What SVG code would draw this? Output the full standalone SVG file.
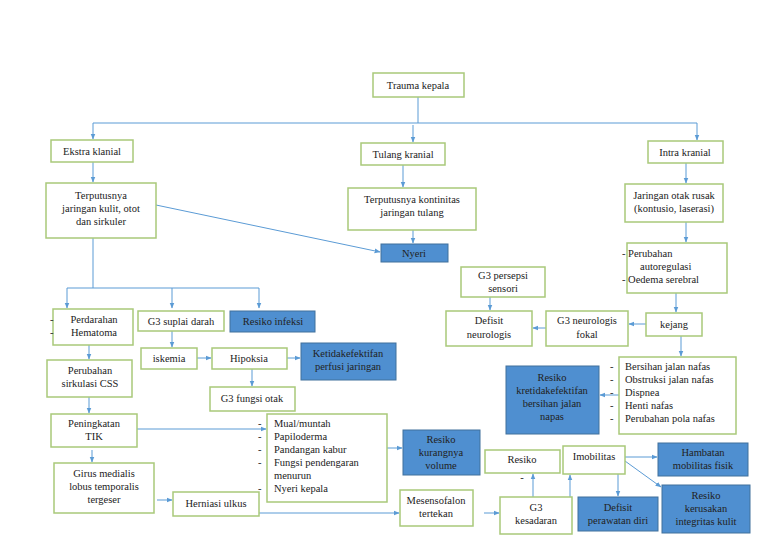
<svg xmlns="http://www.w3.org/2000/svg" width="768" height="543" viewBox="0 0 768 543" font-family="'Liberation Serif', 'DejaVu Serif', serif">
<style>
.n{fill:#fff;stroke:#a9c97a;stroke-width:1.5}
.b{fill:#4f8fd0;stroke:#41719c;stroke-width:1}
text{font-family:'Liberation Serif','DejaVu Serif',serif;font-size:10.5px;fill:#222;text-anchor:middle}
.l{text-anchor:start}
.c line,.c polyline{stroke:#5b9bd5;stroke-width:1;fill:none;marker-end:url(#a)}
.c .p{marker-end:none}
</style>
<defs><marker id="a" viewBox="0 0 10 10" refX="9" refY="5" markerWidth="6" markerHeight="6" orient="auto"><path d="M0,1L10,5L0,9z" fill="#5b9bd5"/></marker></defs>
<rect width="768" height="543" fill="#fff"/>
<g class="c">
<line class="p" x1="418" y1="97" x2="418" y2="123"/>
<line class="p" x1="93" y1="123" x2="697" y2="123"/>
<line x1="93" y1="123" x2="93" y2="139"/>
<line x1="413" y1="125" x2="413" y2="142"/>
<line x1="697" y1="123" x2="697" y2="140"/>
<line x1="93" y1="162" x2="93" y2="182"/>
<line x1="403" y1="165" x2="403" y2="187"/>
<line x1="413" y1="230" x2="413" y2="243"/>
<line x1="156" y1="205" x2="380" y2="252"/>
<line class="p" x1="93" y1="238" x2="93" y2="288"/>
<line class="p" x1="67" y1="288" x2="259" y2="288"/>
<line x1="67" y1="288" x2="67" y2="308"/>
<line x1="172" y1="288" x2="172" y2="308"/>
<line x1="259" y1="288" x2="259" y2="308"/>
<line x1="686" y1="163" x2="686" y2="183"/>
<line x1="686" y1="222" x2="686" y2="242"/>
<line x1="676" y1="293" x2="676" y2="312"/>
<line x1="646" y1="324" x2="629" y2="324"/>
<line x1="546" y1="328" x2="533" y2="328"/>
<line x1="490" y1="297" x2="490" y2="310"/>
<line x1="681" y1="336" x2="681" y2="356"/>
<line x1="619" y1="395" x2="600" y2="395"/>
<line x1="89" y1="345" x2="89" y2="359"/>
<line x1="89" y1="397" x2="89" y2="413"/>
<line x1="172" y1="331" x2="172" y2="347"/>
<line x1="197" y1="358" x2="211" y2="358"/>
<line x1="287" y1="358" x2="300" y2="358"/>
<line x1="252" y1="369" x2="252" y2="386"/>
<line x1="137" y1="429" x2="266" y2="429"/>
<line x1="92" y1="450" x2="92" y2="462"/>
<line x1="157" y1="500" x2="172" y2="500"/>
<line x1="259" y1="513" x2="399" y2="513"/>
<line x1="387" y1="448" x2="402" y2="448"/>
<line x1="484" y1="513" x2="499" y2="513"/>
<line x1="533" y1="497" x2="533" y2="474"/>
<line x1="570" y1="497" x2="570" y2="475"/>
<line x1="625" y1="457" x2="657" y2="457"/>
<line x1="618" y1="474" x2="618" y2="496"/>
<line x1="625" y1="461" x2="661" y2="487"/>
</g>
<g id="n1"><rect class="n" x="373" y="73" width="91" height="24"/><text x="418" y="89">Trauma kepala</text></g>
<g id="n2"><rect class="n" x="51" y="140" width="82" height="22"/><text x="92" y="155">Ekstra klanial</text></g>
<g id="n3"><rect class="n" x="361" y="143" width="84" height="22"/><text x="403" y="158">Tulang kranial</text></g>
<g id="n4"><rect class="n" x="648" y="141" width="75" height="22"/><text x="685" y="156">Intra kranial</text></g>
<g id="n5"><rect class="n" x="46" y="183" width="110" height="55"/><text x="101" y="199">Terputusnya</text><text x="101" y="212">jaringan kulit, otot</text><text x="101" y="225">dan sirkuler</text></g>
<g id="n6"><rect class="n" x="348" y="188" width="128" height="42"/><text x="412" y="203">Terputusnya kontinitas</text><text x="412" y="216">jaringan tulang</text></g>
<g id="n7"><rect class="b" x="381" y="244" width="67" height="18"/><text x="414" y="257">Nyeri</text></g>
<g id="n8"><rect class="n" x="625" y="184" width="98" height="38"/><text x="674" y="199">Jaringan otak rusak</text><text x="674" y="212">(kontusio, laserasi)</text></g>
<g id="n9"><rect class="n" x="627" y="243" width="100" height="50"/><text class="l" x="622" y="257">- Perubahan</text><text class="l" x="640" y="270">autoregulasi</text><text class="l" x="622" y="283">- Oedema serebral</text></g>
<g id="n10"><rect class="n" x="461" y="267" width="84" height="30"/><text x="503" y="279">G3 persepsi</text><text x="503" y="292">sensori</text></g>
<g id="n11"><rect class="n" x="446" y="311" width="86" height="35"/><text x="489" y="324">Defisit</text><text x="489" y="338">neurologis</text></g>
<g id="n12"><rect class="n" x="546" y="311" width="82" height="35"/><text x="587" y="324">G3 neurologis</text><text x="587" y="338">fokal</text></g>
<g id="n13"><rect class="n" x="646" y="313" width="56" height="23"/><text x="674" y="328">kejang</text></g>
<g id="n14"><rect class="n" x="619" y="357" width="117" height="77"/><text class="l" x="610" y="370">-</text><text class="l" x="625" y="370">Bersihan jalan nafas</text><text class="l" x="610" y="383">-</text><text class="l" x="625" y="383">Obstruksi jalan nafas</text><text class="l" x="610" y="396">-</text><text class="l" x="625" y="396">Dispnea</text><text class="l" x="610" y="409">-</text><text class="l" x="625" y="409">Henti nafas</text><text class="l" x="610" y="422">-</text><text class="l" x="625" y="422">Perubahan pola nafas</text></g>
<g id="n15"><rect class="b" x="506" y="366" width="93" height="68"/><text x="552" y="381">Resiko</text><text x="552" y="394">kretidakefektifan</text><text x="552" y="407">bersihan jalan</text><text x="552" y="420">napas</text></g>
<g id="n16"><rect class="n" x="53" y="309" width="80" height="36"/><text x="94" y="323">Perdarahan</text><text x="94" y="336">Hematoma</text><text class="l" x="50" y="323">-</text><text class="l" x="50" y="336">-</text></g>
<g id="n17"><rect class="n" x="138" y="311" width="86" height="20"/><text x="181" y="325">G3 suplai darah</text></g>
<g id="n18"><rect class="b" x="230" y="311" width="85" height="21"/><text x="273" y="325">Resiko infeksi</text></g>
<g id="n19"><rect class="n" x="47" y="360" width="85" height="37"/><text x="90" y="374">Perubahan</text><text x="90" y="387">sirkulasi CSS</text></g>
<g id="n20"><rect class="n" x="141" y="348" width="56" height="21"/><text x="169" y="362">iskemia</text></g>
<g id="n21"><rect class="n" x="212" y="348" width="75" height="21"/><text x="249" y="362">Hipoksia</text></g>
<g id="n22"><rect class="b" x="301" y="343" width="95" height="37"/><text x="348" y="357">Ketidakefektifan</text><text x="348" y="370">perfusi jaringan</text></g>
<g id="n23"><rect class="n" x="210" y="387" width="85" height="24"/><text x="252" y="402">G3 fungsi otak</text></g>
<g id="n24"><rect class="n" x="51" y="414" width="86" height="33"/><text x="94" y="427">Peningkatan</text><text x="94" y="440">TIK</text></g>
<g id="n25"><rect class="n" x="267" y="414" width="120" height="88"/><text class="l" x="258" y="427">-</text><text class="l" x="274" y="427">Mual/muntah</text><text class="l" x="258" y="440">-</text><text class="l" x="274" y="440">Papiloderma</text><text class="l" x="258" y="453">-</text><text class="l" x="274" y="453">Pandangan kabur</text><text class="l" x="258" y="466">-</text><text class="l" x="274" y="466">Fungsi pendengaran</text><text class="l" x="274" y="479">menurun</text><text class="l" x="258" y="492">-</text><text class="l" x="274" y="492">Nyeri kepala</text></g>
<g id="n26"><rect class="b" x="403" y="430" width="77" height="45"/><text x="441" y="443">Resiko</text><text x="441" y="456">kurangnya</text><text x="441" y="469">volume</text></g>
<g id="n27"><rect class="n" x="54" y="463" width="100" height="50"/><text x="104" y="477">Girus medialis</text><text x="104" y="490">lobus temporalis</text><text x="104" y="503">tergeser</text></g>
<g id="n28"><rect class="n" x="173" y="492" width="86" height="24"/><text x="216" y="507">Herniasi ulkus</text></g>
<g id="n29"><rect class="n" x="400" y="490" width="73" height="36"/><text x="436" y="504">Mesensofalon</text><text x="436" y="517">tertekan</text></g>
<g id="n30"><rect class="n" x="500" y="497" width="72" height="37"/><text x="536" y="511">G3</text><text x="536" y="524">kesadaran</text></g>
<g id="n31"><rect class="n" x="485" y="450" width="75" height="23"/><text x="522" y="463">Resiko</text><text x="522" y="481" font-size="8">-</text></g>
<g id="n32"><rect class="n" x="563" y="446" width="62" height="28"/><text x="594" y="460">Imobilitas</text></g>
<g id="n33"><rect class="b" x="658" y="443" width="90" height="33"/><text x="703" y="456">Hambatan</text><text x="703" y="469">mobilitas fisik</text></g>
<g id="n34"><rect class="b" x="578" y="497" width="80" height="34"/><text x="618" y="511">Defisit</text><text x="618" y="524">perawatan diri</text></g>
<g id="n35"><rect class="b" x="662" y="485" width="88" height="48"/><text x="706" y="499">Resiko</text><text x="706" y="512">kerusakan</text><text x="706" y="525">integritas kulit</text></g>
</svg>
